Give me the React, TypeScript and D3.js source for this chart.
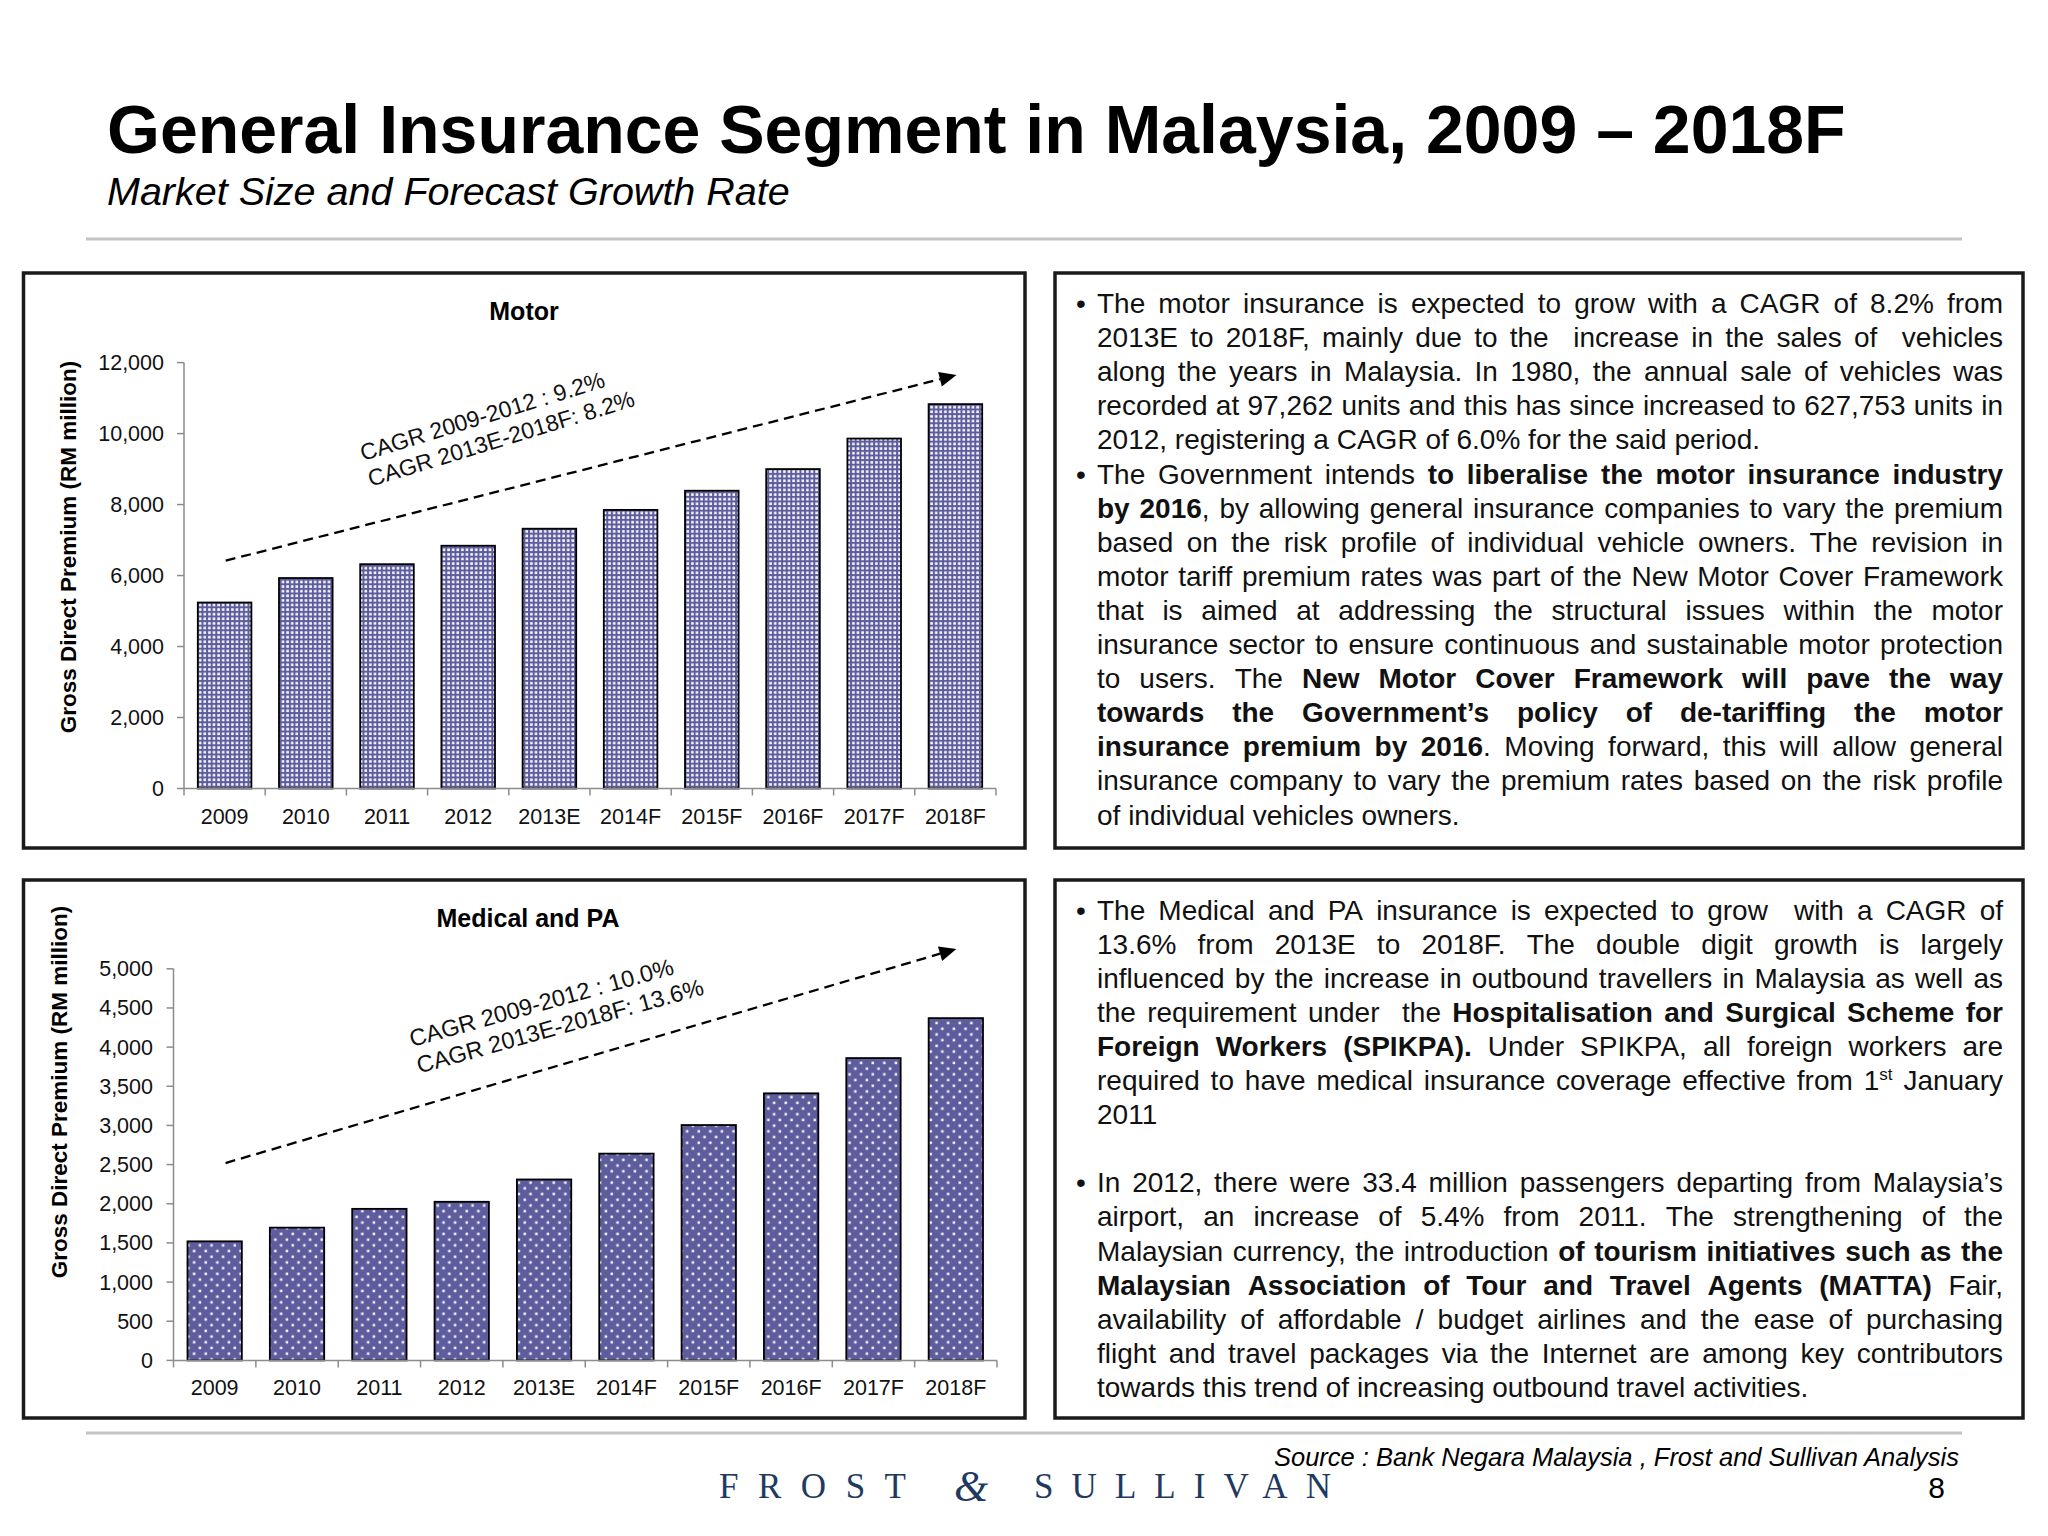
import * as d3 from "d3";
import { useMemo } from "react";

// ---- chart values ----
const years = ["2009", "2010", "2011", "2012", "2013E", "2014F", "2015F", "2016F", "2017F", "2018F"];
const motorPremium = [5240, 5930, 6320, 6840, 7320, 7850, 8390, 9000, 9860, 10830];
const medicalPremium = [1520, 1695, 1935, 2025, 2310, 2640, 3005, 3410, 3860, 4370];
const motorTicks = [0, 2000, 4000, 6000, 8000, 10000, 12000];
const medicalTicks = [0, 500, 1000, 1500, 2000, 2500, 3000, 3500, 4000, 4500, 5000];
const motorCagr = ["CAGR 2009-2012 : 9.2%", "CAGR 2013E-2018F: 8.2%"];
const medicalCagr = ["CAGR 2009-2012 : 10.0%", "CAGR 2013E-2018F: 13.6%"];

const FONT = '"Liberation Sans", Arial, Helvetica, sans-serif';
const SERIF = '"Liberation Serif", "Times New Roman", serif';
const BAR_BASE = "#5d5c9c";
const FRAME = "#1a1a1a";
const AXIS = "#8c8c8c";

type Seg = { t: string; b?: boolean; sup?: boolean };
type Line = { segs: Seg[]; bullet?: boolean; last?: boolean };
const r = (t: string): Seg => ({ t });
const b = (t: string): Seg => ({ t, b: true });

const motorNotes: Line[] = [
  { bullet: true, segs: [r("The motor insurance is expected to grow with a CAGR of 8.2% from")] },
  { segs: [r("2013E to 2018F, mainly due to the  increase in the sales of  vehicles")] },
  { segs: [r("along the years in Malaysia. In 1980, the annual sale of vehicles was")] },
  { segs: [r("recorded at 97,262 units and this has since increased to 627,753 units in")] },
  { last: true, segs: [r("2012, registering a CAGR of 6.0% for the said period.")] },
  { bullet: true, segs: [r("The Government intends "), b("to liberalise the motor insurance industry")] },
  { segs: [b("by 2016"), r(", by allowing general insurance companies to vary the premium")] },
  { segs: [r("based on the risk profile of individual vehicle owners. The revision in")] },
  { segs: [r("motor tariff premium rates was part of the New Motor Cover Framework")] },
  { segs: [r("that is aimed at addressing the structural issues within the motor")] },
  { segs: [r("insurance sector to ensure continuous and sustainable motor protection")] },
  { segs: [r("to users. The "), b("New Motor Cover Framework will pave the way")] },
  { segs: [b("towards the Government\u2019s policy of de-tariffing the motor")] },
  { segs: [b("insurance premium by 2016"), r(". Moving forward, this will allow general")] },
  { segs: [r("insurance company to vary the premium rates based on the risk profile")] },
  { last: true, segs: [r("of individual vehicles owners.")] },
];

const medicalNotes: Line[] = [
  { bullet: true, segs: [r("The Medical and PA insurance is expected to grow  with a CAGR of")] },
  { segs: [r("13.6% from 2013E to 2018F. The double digit growth is largely")] },
  { segs: [r("influenced by the increase in outbound travellers in Malaysia as well as")] },
  { segs: [r("the requirement under  the "), b("Hospitalisation and Surgical Scheme for")] },
  { segs: [b("Foreign Workers (SPIKPA)."), r(" Under SPIKPA, all foreign workers are")] },
  { segs: [r("required to have medical insurance coverage effective from 1"), { t: "st", sup: true }, r(" January")] },
  { last: true, segs: [r("2011")] },
  { last: true, segs: [] },
  { bullet: true, segs: [r("In 2012, there were 33.4 million passengers departing from Malaysia\u2019s")] },
  { segs: [r("airport, an increase of 5.4% from 2011. The strengthening of the")] },
  { segs: [r("Malaysian currency, the introduction "), b("of tourism initiatives such as the")] },
  { segs: [b("Malaysian Association of Tour and Travel Agents (MATTA)"), r(" Fair,")] },
  { segs: [r("availability of affordable / budget airlines and the ease of purchasing")] },
  { segs: [r("flight and travel packages via the Internet are among key contributors")] },
  { last: true, segs: [r("towards this trend of increasing outbound travel activities.")] },
];

// ---- text measuring / justification ----
let measureCtx: CanvasRenderingContext2D | null = null;
const textWidth = (s: string, font: string) => {
  if (!measureCtx) measureCtx = document.createElement("canvas").getContext("2d");
  measureCtx!.font = font;
  return measureCtx!.measureText(s).width;
};
const cssFont = (size: number, bold?: boolean) => `${bold ? "bold " : ""}${size}px ${FONT}`;

type Placed = { x: number; t: string; b?: boolean; sup?: boolean };

function layoutLine(line: Line, left: number, right: number, size: number, supSize: number): Placed[] {
  const words: { gap: number; parts: Seg[] }[] = [];
  let cur: { gap: number; parts: Seg[] } | null = null;
  let gaps = 0;
  for (const s of line.segs) {
    s.t.split(" ").forEach((chunk, i) => {
      if (i > 0) {
        cur = null;
        gaps++;
      }
      if (!chunk) return;
      if (!cur) {
        cur = { gap: words.length ? gaps : 0, parts: [] };
        words.push(cur);
        gaps = 0;
      }
      cur.parts.push({ ...s, t: chunk });
    });
  }
  const partW = (p: Seg) => textWidth(p.t, cssFont(p.sup ? supSize : size, p.b));
  const natural = d3.sum(words, (w) => d3.sum(w.parts, partW));
  const totalGaps = d3.sum(words, (w) => w.gap);
  const spaceW = textWidth(" ", cssFont(size));
  const gapW = !line.last && totalGaps > 0 ? (right - left - natural) / totalGaps : spaceW;
  const out: Placed[] = [];
  let x = left;
  for (const w of words) {
    x += w.gap * gapW;
    for (const p of w.parts) {
      out.push({ x, t: p.t, b: p.b, sup: p.sup });
      x += partW(p);
    }
  }
  return out;
}

function NotesBox({ lines, box, baseline0 }: { lines: Line[]; box: number[]; baseline0: number }) {
  const [x0, y0, x1, y1] = box;
  const size = 28;
  const lineH = 34.1;
  const left = 1097;
  const right = 2003;
  const placed = useMemo(() => lines.map((l) => layoutLine(l, left, right, size, 17)), [lines]);
  return (
    <g fontFamily={FONT} fill="#111">
      <rect x={x0} y={y0} width={x1 - x0} height={y1 - y0} fill="none" stroke={FRAME} strokeWidth={3.5} />
      {lines.map((l, i) => {
        const yb = baseline0 + i * lineH;
        return (
          <g key={i}>
            {l.bullet && (
              <text x={1076} y={yb} fontSize={size}>
                •
              </text>
            )}
            {placed[i].map((p, j) => (
              <text
                key={j}
                x={p.x}
                y={p.sup ? yb - 10 : yb}
                fontSize={p.sup ? 17 : size}
                fontWeight={p.b ? "bold" : "normal"}
              >
                {p.t}
              </text>
            ))}
          </g>
        );
      })}
    </g>
  );
}

// ---- bar panels ----
type PanelSpec = {
  box: number[];
  left: number;
  right: number;
  top: number;
  bottom: number;
  max: number;
  values: number[];
  ticks: number[];
  title: string;
  titleX: number;
  titleY: number;
  yTitleX: number;
  yTitleY: number;
  labelRight: number;
  catBaseline: number;
  pattern: string;
  arrowFrom: [string, number, number];
  arrowTo: [string, number, number];
  cagr: string[];
  cagrX: number;
  cagrY: number;
  cagrSize: number;
  cagrAngle: number;
};

function BarPanel({ spec }: { spec: PanelSpec }) {
  const x = d3.scaleBand<string>().domain(years).range([spec.left, spec.right]).paddingInner(0.34).paddingOuter(0.17);
  const y = d3.scaleLinear().domain([0, spec.max]).range([spec.bottom, spec.top]);
  const fmt = d3.format(",");
  const half = (x.step() - x.bandwidth()) / 2;
  const bounds = [...years.map((d) => x(d)! - half), spec.right];

  const pt = ([cat, frac, v]: [string, number, number]) => [x(cat)! + x.bandwidth() * frac, y(v)];
  const [ax, ay] = pt(spec.arrowFrom);
  const [bx, by] = pt(spec.arrowTo);
  const len = Math.hypot(bx - ax, by - ay);
  const ux = (bx - ax) / len;
  const uy = (by - ay) / len;
  const headL = 17;
  const headW = 7.5;
  const baseX = bx - ux * headL;
  const baseY = by - uy * headL;
  const head = [
    [bx, by],
    [baseX - uy * headW, baseY + ux * headW],
    [baseX + uy * headW, baseY - ux * headW],
  ];

  const [x0, y0, x1, y1] = spec.box;
  return (
    <g fontFamily={FONT}>
      <rect x={x0} y={y0} width={x1 - x0} height={y1 - y0} fill="none" stroke={FRAME} strokeWidth={3.5} />
      <text x={spec.titleX} y={spec.titleY} fontSize={25} fontWeight="bold" textAnchor="middle">
        {spec.title}
      </text>
      <text
        transform={`translate(${spec.yTitleX},${spec.yTitleY}) rotate(-90)`}
        fontSize={22.5}
        fontWeight="bold"
        textAnchor="middle"
      >
        Gross Direct Premium (RM million)
      </text>

      {years.map((d, i) => (
        <rect
          key={d}
          x={x(d)}
          y={y(spec.values[i])}
          width={x.bandwidth()}
          height={y(0) - y(spec.values[i])}
          fill={`url(#${spec.pattern})`}
          stroke="#000"
          strokeWidth={1.8}
        />
      ))}

      {/* axes */}
      <line x1={spec.left} x2={spec.left} y1={y(0)} y2={y(spec.max)} stroke={AXIS} strokeWidth={1.5} />
      <line x1={spec.left} x2={spec.right} y1={y(0)} y2={y(0)} stroke={AXIS} strokeWidth={1.5} />
      {spec.ticks.map((t) => (
        <g key={t}>
          <line x1={spec.left - 7} x2={spec.left} y1={y(t)} y2={y(t)} stroke={AXIS} strokeWidth={1.5} />
          <text x={spec.labelRight} y={y(t)} dy="0.35em" fontSize={21.5} textAnchor="end" fill="#111">
            {fmt(t)}
          </text>
        </g>
      ))}
      {bounds.map((bx2, i) => (
        <line key={i} x1={bx2} x2={bx2} y1={y(0)} y2={y(0) + 7} stroke={AXIS} strokeWidth={1.5} />
      ))}
      {years.map((d) => (
        <text key={d} x={x(d)! + x.bandwidth() / 2} y={spec.catBaseline} fontSize={21.5} textAnchor="middle" fill="#111">
          {d}
        </text>
      ))}

      {/* growth trend arrow */}
      <line x1={ax} y1={ay} x2={baseX} y2={baseY} stroke="#000" strokeWidth={2.3} strokeDasharray="10 6" />
      <polygon points={head.map((p) => p.join(",")).join(" ")} fill="#000" />
      <g transform={`translate(${spec.cagrX},${spec.cagrY}) rotate(${spec.cagrAngle})`} fontSize={spec.cagrSize} fill="#111">
        {spec.cagr.map((c, i) => (
          <text key={c} x={0} y={i * spec.cagrSize * 1.17}>
            {c}
          </text>
        ))}
      </g>
    </g>
  );
}

const motorSpec: PanelSpec = {
  box: [23.5, 273, 1025, 848],
  left: 184,
  right: 996,
  top: 362.6,
  bottom: 788.5,
  max: 12000,
  values: motorPremium,
  ticks: motorTicks,
  title: "Motor",
  titleX: 524,
  titleY: 320,
  yTitleX: 76,
  yTitleY: 547,
  labelRight: 164,
  catBaseline: 824,
  pattern: "dotsDense",
  arrowFrom: ["2009", 0.52, 6420],
  arrowTo: ["2018F", 0.52, 11650],
  cagr: motorCagr,
  cagrX: 363,
  cagrY: 461,
  cagrSize: 23,
  cagrAngle: -17,
};

const medicalSpec: PanelSpec = {
  box: [23.5, 880, 1025, 1418],
  left: 173.5,
  right: 997,
  top: 968.8,
  bottom: 1360.4,
  max: 5000,
  values: medicalPremium,
  ticks: medicalTicks,
  title: "Medical and PA",
  titleX: 528,
  titleY: 927,
  yTitleX: 67,
  yTitleY: 1092,
  labelRight: 153,
  catBaseline: 1395,
  pattern: "dotsSparse",
  arrowFrom: ["2009", 0.7, 2520],
  arrowTo: ["2018F", 0.51, 5254],
  cagr: medicalCagr,
  cagrX: 412,
  cagrY: 1047,
  cagrSize: 23.5,
  cagrAngle: -15.5,
};

export default function App() {
  return (
    <svg
      width={2048}
      height={1536}
      viewBox="0 0 2048 1536"
      style={{ position: "absolute", left: 0, top: 0, display: "block", background: "#fff" }}
    >
      <defs>
        <pattern id="dotsDense" width={4.6} height={4.6} patternUnits="userSpaceOnUse">
          <rect width={4.6} height={4.6} fill={BAR_BASE} />
          <rect x={1.1} y={1.1} width={2.6} height={2.6} fill="#f6f6ff" />
        </pattern>
        <pattern id="dotsSparse" width={11.6} height={11.4} patternUnits="userSpaceOnUse">
          <rect width={11.6} height={11.4} fill={BAR_BASE} />
          <rect x={1.5} y={1.5} width={2.5} height={2.5} fill="#f6f6ff" />
          <rect x={7.3} y={7.2} width={2.5} height={2.5} fill="#f6f6ff" />
        </pattern>
      </defs>
      <rect width={2048} height={1536} fill="#fff" />

      <g fontFamily={FONT} fill="#000">
        <text x={107} y={153} fontSize={68} fontWeight="bold">
          General Insurance Segment in Malaysia, 2009 – 2018F
        </text>
        <text x={107} y={205} fontSize={39.5} fontStyle="italic">
          Market Size and Forecast Growth Rate
        </text>
      </g>
      <line x1={86} x2={1962} y1={239} y2={239} stroke="#c4c4c4" strokeWidth={3} />

      <BarPanel spec={motorSpec} />
      <BarPanel spec={medicalSpec} />
      <NotesBox lines={motorNotes} box={[1055, 273, 2023, 848]} baseline0={313} />
      <NotesBox lines={medicalNotes} box={[1055, 880, 2023, 1418]} baseline0={919.5} />

      <line x1={86} x2={1962} y1={1433} y2={1433} stroke="#c4c4c4" strokeWidth={3} />
      <text x={1959} y={1466} fontFamily={FONT} fontSize={25.5} fontStyle="italic" textAnchor="end">
        Source : Bank Negara Malaysia , Frost and Sullivan Analysis
      </text>
      <g fontFamily={SERIF} fill="#1f3a60">
        <text x={719} y={1498} fontSize={35} textLength={187} lengthAdjust="spacing">
          FROST
        </text>
        <text x={971} y={1501} fontSize={44} fontStyle="italic" textAnchor="middle">
          &amp;
        </text>
        <text x={1034} y={1498} fontSize={35} textLength={297} lengthAdjust="spacing">
          SULLIVAN
        </text>
      </g>
      <text x={1945} y={1498} fontFamily={FONT} fontSize={30} textAnchor="end">
        8
      </text>
    </svg>
  );
}
